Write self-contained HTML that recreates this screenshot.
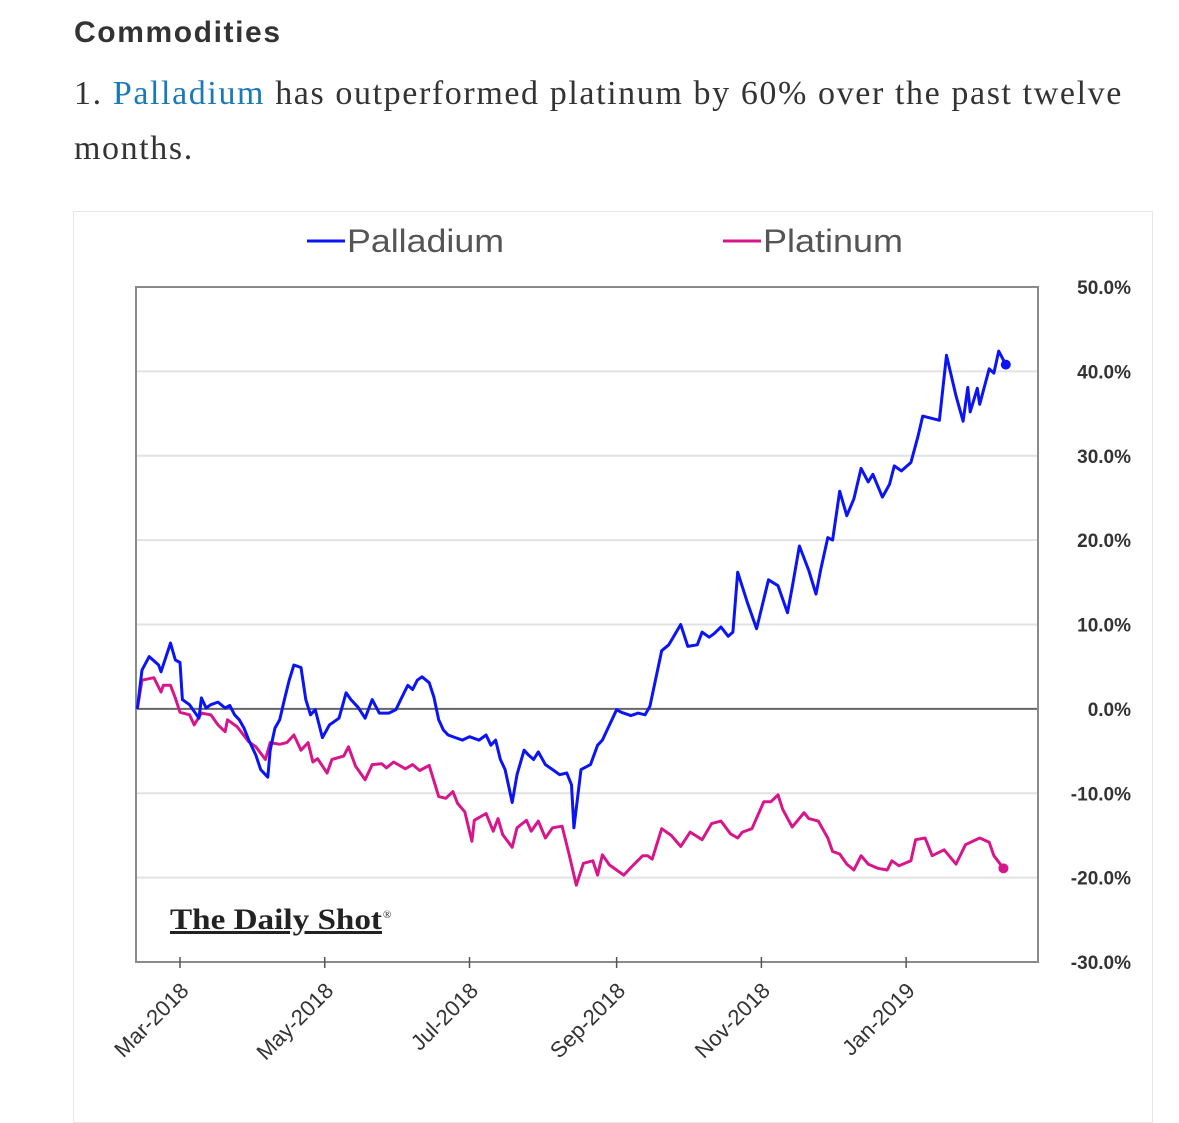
<!DOCTYPE html>
<html><head><meta charset="utf-8"><style>
body{margin:0;background:#fff;width:1179px;height:1109px;overflow:hidden;position:relative;}
.h{position:absolute;left:74px;top:16px;font:bold 30px "Liberation Sans",sans-serif;color:#333;letter-spacing:1.6px;}
.p{position:absolute;left:74px;top:66px;width:1070px;font:34px/55px "Liberation Serif",serif;color:#333;letter-spacing:1.6px;}
.p a{color:#1a7ab8;text-decoration:none;}
.box{position:absolute;left:73px;top:211px;width:1078px;height:910px;border:1px solid #e6e6e6;}
svg{position:absolute;left:0;top:0;}
</style></head><body>
<div class="h">Commodities</div>
<div class="p">1. <a href="#">Palladium</a> has outperformed platinum by 60% over the past twelve months.</div>
<div class="box"></div>
<svg id="chart" width="1179" height="1109"></svg>
<script>
const yTicks=[50,40,30,20,10,0,-10,-20,-30];
const xTickLabels=["Mar-2018","May-2018","Jul-2018","Sep-2018","Nov-2018","Jan-2019"];
const xTickDays=[0,61,122,184,245,306];
const palDays=[-18,-16,-13,-9,-8,-4,-2,0,1,4,8,9,11,13,16,19,21,23,25,27,29,32,34,37,38,40,42,44,46,48,51,53,55,57,60,63,67,70,72,75,78,81,84,88,91,93,96,98,100,102,105,107,109,111,113,116,119,122,126,129,131,133,135,137,140,142,145,147,149,151,154,157,160,163,165,166,169,171,173,176,178,180,182,184,186,190,193,196,198,203,206,211,214,218,220,223,225,228,231,233,235,239,243,248,252,256,258,261,265,268,270,273,275,278,281,284,287,290,292,296,299,301,304,308,311,313,320,323,327,330,332,333,336,337,341,343,345,348];
const palVals=[0,4.6,6.2,5.2,4.4,7.8,5.8,5.5,1.1,0.5,-1.1,1.3,0.1,0.5,0.8,0.1,0.4,-0.7,-1.3,-2.3,-3.7,-5.5,-7.2,-8.1,-4.9,-2.3,-1.3,1.1,3.4,5.2,4.9,1.1,-0.7,-0.1,-3.4,-1.9,-1.1,1.9,1.1,0.2,-1.1,1.1,-0.5,-0.5,-0.1,1.1,2.8,2.3,3.4,3.8,3.1,1.4,-1.3,-2.5,-3.1,-3.4,-3.7,-3.3,-3.7,-3.1,-4.3,-3.7,-6.0,-7.2,-11.1,-7.8,-4.9,-5.5,-6.0,-5.1,-6.6,-7.2,-7.8,-7.6,-9.0,-14.1,-7.2,-6.9,-6.6,-4.3,-3.7,-2.5,-1.3,-0.1,-0.4,-0.8,-0.5,-0.7,0.3,6.9,7.6,10.0,7.4,7.6,9.1,8.5,8.9,9.7,8.6,9.1,16.2,12.7,9.5,15.3,14.6,11.4,14.4,19.3,16.4,13.6,16.5,20.3,20.0,25.8,22.9,24.9,28.5,26.9,27.8,25.1,26.6,28.8,28.2,29.2,32.3,34.7,34.2,41.9,37.1,34.1,38.1,35.2,38.0,36.1,40.3,39.8,42.4,40.8];
const platDays=[-18,-16,-11,-8,-7,-4,-2,0,4,6,9,13,16,19,20,24,29,32,36,38,42,45,48,51,54,56,58,62,64,69,71,74,78,81,85,87,90,95,98,101,105,109,112,115,117,120,123,124,129,132,134,136,140,142,146,148,151,154,157,161,164,167,170,174,176,178,181,187,190,195,197,199,203,207,211,215,220,224,228,232,235,237,241,246,249,252,254,258,263,265,269,273,275,278,281,284,287,290,294,298,300,303,308,310,314,317,322,327,331,337,341,343,347];
const platVals=[0,3.4,3.7,2.0,2.8,2.8,1.3,-0.4,-0.7,-1.9,-0.5,-0.7,-1.9,-2.7,-1.3,-2.1,-3.9,-4.5,-6.0,-4.0,-4.2,-4.0,-3.1,-4.9,-4.0,-6.3,-5.9,-7.6,-6.0,-5.6,-4.5,-6.8,-8.4,-6.6,-6.5,-7.0,-6.3,-7.1,-6.6,-7.3,-6.7,-10.4,-10.6,-9.8,-11.2,-12.2,-15.7,-13.2,-12.4,-14.5,-13.0,-14.9,-16.4,-14.1,-13.2,-14.5,-13.3,-15.3,-14.1,-13.9,-17.3,-20.9,-18.3,-18.0,-19.7,-17.3,-18.5,-19.7,-18.8,-17.4,-17.4,-17.8,-14.2,-15.0,-16.3,-14.6,-15.5,-13.6,-13.3,-14.8,-15.3,-14.6,-14.2,-11.0,-11.0,-10.2,-11.9,-14.0,-12.3,-13.0,-13.3,-15.3,-16.9,-17.2,-18.4,-19.1,-17.4,-18.4,-18.9,-19.1,-18.0,-18.6,-18.0,-15.5,-15.3,-17.4,-16.7,-18.4,-16.1,-15.3,-15.8,-17.4,-18.9];

const NS="http://www.w3.org/2000/svg";
const svg=document.getElementById('chart');
const L=136,R=1038,T=287,B=962;
const xs=d=>180+d*2.373;
const ys=v=>T+(50-v)*(B-T)/80;
function mk(tag,attrs,parent){const e=document.createElementNS(NS,tag);for(const k in attrs)e.setAttribute(k,attrs[k]);(parent||svg).appendChild(e);return e;}

yTicks.forEach(v=>{
  const y=ys(v);
  if(v!==50&&v!==-30){const g=mk('line',{x1:L,x2:R,y1:y,y2:y,stroke:v===0?'#666':'#e2e2e2','stroke-width':2});
  
  }
  const t=mk('text',{x:1131,y:y+7,'text-anchor':'end','font-family':'Liberation Sans, sans-serif','font-weight':'bold','font-size':19,fill:'#333'});
  t.textContent=v.toFixed(1)+'%';
  
  
});
const frame=mk('rect',{x:L,y:T,width:R-L,height:B-T,fill:'none',stroke:'#8a8a8a','stroke-width':2});



xTickDays.forEach((d,i)=>{
  const x=xs(d);
  const tk=mk('line',{x1:x,x2:x,y1:B-5,y2:B+6,stroke:'#555','stroke-width':1.5});
  
  
  const tx=x+10,ty=B+30;
  const t=mk('text',{x:tx,y:ty,'text-anchor':'end','font-family':'Liberation Sans, sans-serif','font-size':22,fill:'#333',transform:`rotate(-45 ${tx} ${ty})`});
  t.textContent=xTickLabels[i];
  
  
});

function series(days,vals,color,name){
  const pts=days.map((d,i)=>xs(d).toFixed(1)+','+ys(vals[i]).toFixed(1)).join(' ');
  const p=mk('polyline',{points:pts,fill:'none',stroke:color,'stroke-width':3,'stroke-linejoin':'round'});
  
  
  const n=days.length-1;
  const c=mk('circle',{cx:xs(days[n]),cy:ys(vals[n]),r:5,fill:color});
  
  
}
series(platDays,platVals,'#d8168c','platinum-line');
series(palDays,palVals,'#0a14f5','palladium-line');

[['Palladium','#0a14f5',307,157],['Platinum','#d8168c',723,140]].forEach(([n,c,x,w])=>{
  const g=mk('g',{});
  
  
  mk('line',{x1:x,x2:x+38,y1:241,y2:241,stroke:c,'stroke-width':3},g);
  const t=mk('text',{x:x+40,y:252,'font-family':'Liberation Sans, sans-serif','font-size':32,fill:'#555',textLength:w,lengthAdjust:'spacingAndGlyphs'},g);
  t.textContent=n;
});
const logo=mk('text',{x:170,y:929,'font-family':'Liberation Serif, serif','font-weight':'bold','font-size':30,fill:'#222','text-decoration':'underline',textLength:212,lengthAdjust:'spacingAndGlyphs'});
logo.textContent='The Daily Shot';


const reg=mk('text',{x:383,y:918,'font-family':'Liberation Serif, serif','font-size':11,fill:'#222'});
reg.textContent='®';


</script>
</body></html>
